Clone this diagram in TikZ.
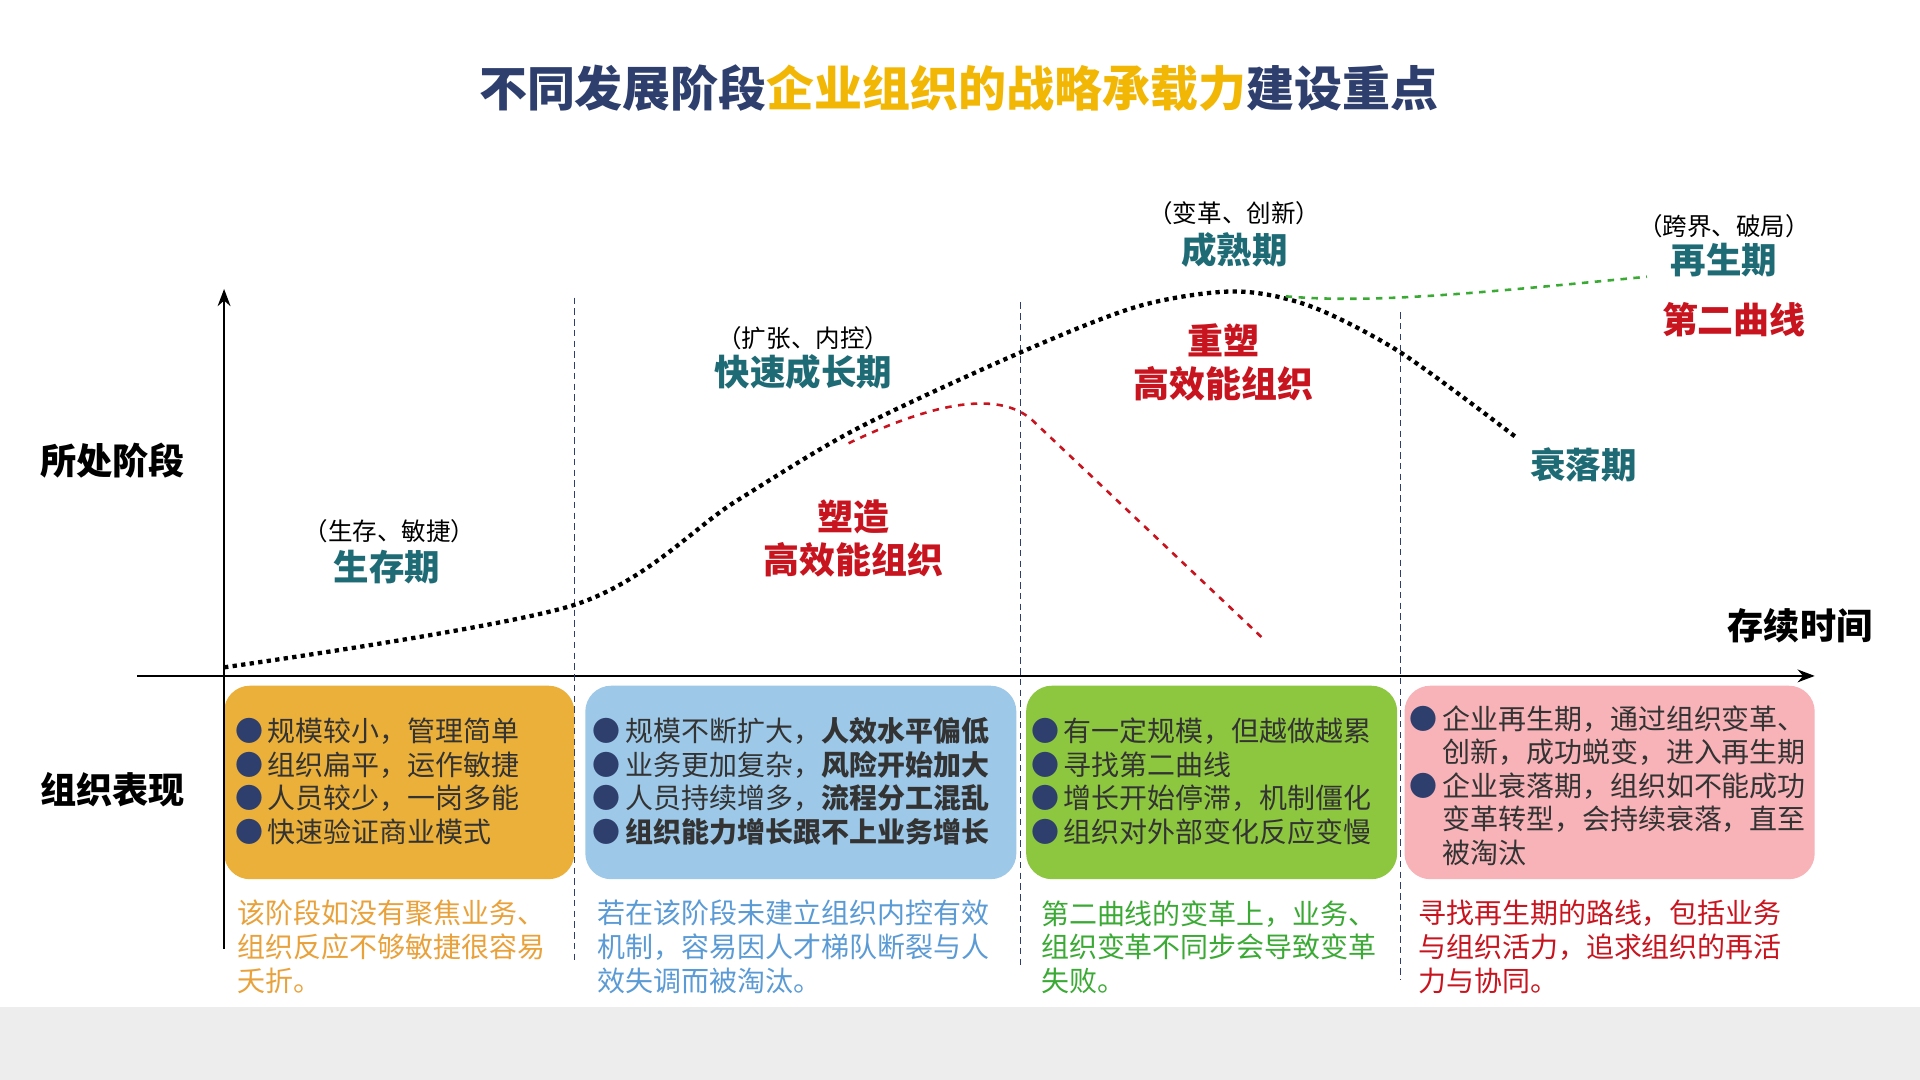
\documentclass[tikz,border=0pt]{standalone}
\usepackage{fontspec}
\setmainfont{Noto Sans CJK SC}
\usetikzlibrary{arrows.meta}
\definecolor{navy}{HTML}{2E3F6E}
\definecolor{gold}{HTML}{F2B705}
\definecolor{teal}{HTML}{1E6B75}
\definecolor{dred}{HTML}{C8141E}
\definecolor{bo}{HTML}{EBB03A}
\definecolor{bb}{HTML}{9DC8E8}
\definecolor{bg}{HTML}{8DC63F}
\definecolor{bp}{HTML}{F7B3B8}
\definecolor{to}{HTML}{E9A23B}
\definecolor{tb}{HTML}{5B9BD5}
\definecolor{tg}{HTML}{3BAA35}
\definecolor{tx}{HTML}{333333}
\begin{document}
\begin{tikzpicture}[x=0.02cm,y=-0.02cm,
  side/.style={font=\fontsize{16.8}{20}\selectfont\bfseries},
  stg/.style={font=\fontsize{16.5}{20}\selectfont\bfseries,text=teal},
  sub/.style={font=\fontsize{11.4}{13}\selectfont},
  rd/.style={font=\fontsize{16.7}{20}\selectfont\bfseries,text=dred,align=center},
  box/.style={rounded corners=12pt,draw=none},
  btx/.style={font=\fontsize{13}{15.6}\selectfont,text=tx,align=left,anchor=north west},
  low/.style={font=\fontsize{13}{15.6}\selectfont,align=left,anchor=north west},
  vd/.style={densely dashed,thin,navy}]
\fill[white] (0,0) rectangle (1568,882);
\fill[black!7] (0,822) rectangle (1568,882);
\newcommand{\bl}{{\color{navy}●}\,}
\node (title) at (783,72) {\fontsize{22.3}{26}\selectfont\bfseries\color{navy}不同发展阶段\textcolor{gold}{企业组织的战略承载力}建设重点};
% boxes
\fill[box,bo] (183,560) rectangle (469,718);
\fill[box,bb] (478,560) rectangle (830,718);
\fill[box,bg] (838,560) rectangle (1141,718);
\fill[box,bp] (1147,560) rectangle (1482,718);
% axes
\coordinate (yb) at (183,775); \coordinate (yt) at (183,236);
\coordinate (xl) at (112,552); \coordinate (xr) at (1482,552);
\draw[thick,-{Stealth[length=8pt]}] (yb) -- (yt);
\draw[thick,-{Stealth[length=8pt]}] (xl) -- (xr);
\coordinate (v1a) at (469,243); \coordinate (v1b) at (469,785);
\coordinate (v2a) at (833,247); \coordinate (v2b) at (833,790);
\coordinate (v3a) at (1144,255); \coordinate (v3b) at (1144,800);
\draw[vd] (v1a)--(v1b); \draw[vd] (v2a)--(v2b); \draw[vd] (v3a)--(v3b);
% curves
\draw[line width=2pt,dotted] plot[smooth,tension=0.5] coordinates{(183,545) (469,494) (600,410) (700,350) (833,288) (930,250) (1008,238) (1070,250) (1144,288) (1238,357)};
\draw[line width=1.2pt,dashed,dred] (693,362) .. controls (770,325) and (820,320) .. (845,345) -- (1032,522);
\draw[line width=1.2pt,dashed,tg] (1050,242) .. controls (1120,248) and (1200,240) .. (1345,226);
% labels
\node[side] (l1) at (92,376) {所处阶段};
\node[side] (l2) at (92,645) {组织表现};
\node[side] (l3) at (1470,511) {存续时间};
\node[sub] at (318,434) {（生存、敏捷）};
\node[stg] at (316,463) {生存期};
\node[sub] at (656,276) {（扩张、内控）};
\node[stg] at (656,304) {快速成长期};
\node[sub] at (1008,174) {（变革、创新）};
\node[stg] at (1008,204) {成熟期};
\node[sub] at (1408,185) {（跨界、破局）};
\node[stg] at (1408,212) {再生期};
\node[stg] at (1293,380) {衰落期};
\node[rd] at (1416,261) {第二曲线};
\node[rd] at (697,440) {塑造\\高效能组织};
\node[rd] at (999,296) {重塑\\高效能组织};
% box texts
\node[btx] at (186,580) {\bl 规模较小，管理简单\\\bl 组织扁平，运作敏捷\\\bl 人员较少，一岗多能\\\bl 快速验证商业模式};
\node[btx] at (478,580) {\bl 规模不断扩大，\textbf{人效水平偏低}\\\bl 业务更加复杂，\textbf{风险开始加大}\\\bl 人员持续增多，\textbf{流程分工混乱}\\\bl \textbf{组织能力增长跟不上业务增长}};
\node[btx] at (836,580) {\bl 有一定规模，但越做越累\\\bl 寻找第二曲线\\\bl 增长开始停滞，机制僵化\\\bl 组织对外部变化反应变慢};
\node[btx] at (1145,570) {\bl 企业再生期，通过组织变革、\\\phantom{\bl}创新，成功蜕变，进入再生期\\\bl 企业衰落期，组织如不能成功\\\phantom{\bl}变革转型，会持续衰落，直至\\\phantom{\bl}被淘汰};
\node[low,text=to] at (188,729) {该阶段如没有聚焦业务、\\组织反应不够敏捷很容易\\夭折。};
\node[low,text=tb] at (482,729) {若在该阶段未建立组织内控有效\\机制，容易因人才梯队断裂与人\\效失调而被淘汰。};
\node[low,text=tg] at (844,729) {第二曲线的变革上，业务、\\组织变革不同步会导致变革\\失败。};
\node[low,text=dred] at (1152,729) {寻找再生期的路线，包括业务\\与组织活力，追求组织的再活\\力与协同。};
\end{tikzpicture}
\end{document}
